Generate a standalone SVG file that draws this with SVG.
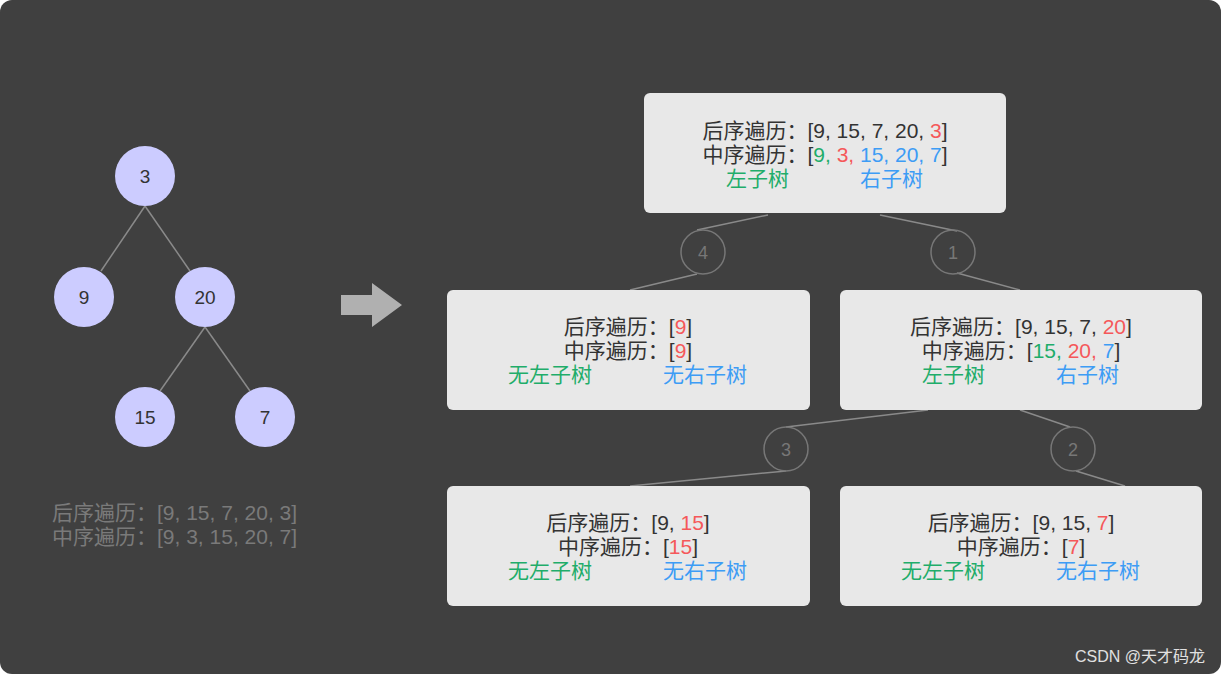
<svg xmlns="http://www.w3.org/2000/svg" width="1221" height="674" viewBox="0 0 1221 674">
<style>
text{font-family:"Liberation Sans","Noto Sans CJK SC",sans-serif;font-size:21px}
.box{fill:#e8e8e8}
.c{text-anchor:middle;fill:#333}
.r{fill:#f5585a}.g{fill:#1fad6a}.b{fill:#3d9cf5}
.ln{stroke:#8a8a8a;stroke-width:1.5;fill:none}
.lc{fill:none;stroke:#777;stroke-width:1.5}
.lt{fill:#777;text-anchor:middle;font-size:18px}
.tn{fill:#ccccff}
.tt{text-anchor:middle;fill:#333;font-size:19px}
</style>
<rect width="1221" height="674" rx="12" fill="#404040"/>
<g id="connectors">
<line class="ln" x1="145" y1="206" x2="101" y2="271"/>
<line class="ln" x1="145" y1="206" x2="190" y2="271"/>
<line class="ln" x1="205" y1="327" x2="160" y2="391"/>
<line class="ln" x1="205" y1="327" x2="250" y2="391"/>
<polyline class="ln" points="768,215 697,230"/><polyline class="ln" points="697,274 630,290"/>
<polyline class="ln" points="880,215 957,231"/><polyline class="ln" points="957,273 1020,290"/>
<polyline class="ln" points="928,410 786,427"/><polyline class="ln" points="786,471 630,486"/>
<polyline class="ln" points="1020,410 1070,427"/><polyline class="ln" points="1076,471 1125,486"/>
</g>
<g id="tree">
<circle class="tn" cx="145" cy="176" r="30"/><text class="tt" x="145" y="183">3</text>
<circle class="tn" cx="84" cy="297" r="30"/><text class="tt" x="84" y="304">9</text>
<circle class="tn" cx="205" cy="297" r="30"/><text class="tt" x="205" y="304">20</text>
<circle class="tn" cx="145" cy="417" r="30"/><text class="tt" x="145" y="424">15</text>
<circle class="tn" cx="265" cy="417" r="30"/><text class="tt" x="265" y="424">7</text>
</g>
<g id="arrow"><polygon points="341,295 372,295 372,283 402,305 372,327 372,315 341,315" fill="#b0b0b0"/></g>
<g id="legend">
<text x="52" y="520" fill="#7a7a7a">后序遍历：[9, 15, 7, 20, 3]</text>
<text x="52" y="544" fill="#7a7a7a">中序遍历：[9, 3, 15, 20, 7]</text>
</g>
<g id="labels">
<circle class="lc" cx="703" cy="252" r="22"/><text class="lt" x="703" y="259">4</text>
<circle class="lc" cx="953" cy="252" r="22"/><text class="lt" x="953" y="259">1</text>
<circle class="lc" cx="786" cy="449" r="22"/><text class="lt" x="786" y="456">3</text>
<circle class="lc" cx="1073" cy="449" r="22"/><text class="lt" x="1073" y="456">2</text>
</g>
<g id="n-root">
<rect class="box" x="644" y="93" width="362" height="120" rx="6"/>
<text class="c" x="825" y="138">后序遍历：[9, 15, 7, 20, <tspan class="r">3</tspan>]</text>
<text class="c" x="825" y="162">中序遍历：[<tspan class="g">9, </tspan><tspan class="r">3, </tspan><tspan class="b">15, 20, 7</tspan>]</text>
<text class="g" x="726" y="186">左子树</text><text class="b" x="860" y="186">右子树</text>
</g>
<g id="n-9">
<rect class="box" x="447" y="290" width="363" height="120" rx="6"/>
<text class="c" x="628" y="334">后序遍历：[<tspan class="r">9</tspan>]</text>
<text class="c" x="628" y="358">中序遍历：[<tspan class="r">9</tspan>]</text>
<text class="g" x="508" y="382">无左子树</text><text class="b" x="663" y="382">无右子树</text>
</g>
<g id="n-20">
<rect class="box" x="840" y="290" width="362" height="120" rx="6"/>
<text class="c" x="1021" y="334">后序遍历：[9, 15, 7, <tspan class="r">20</tspan>]</text>
<text class="c" x="1021" y="358">中序遍历：[<tspan class="g">15, </tspan><tspan class="r">20, </tspan><tspan class="b">7</tspan>]</text>
<text class="g" x="922" y="382">左子树</text><text class="b" x="1056" y="382">右子树</text>
</g>
<g id="n-15">
<rect class="box" x="447" y="486" width="363" height="120" rx="6"/>
<text class="c" x="628" y="530">后序遍历：[9, <tspan class="r">15</tspan>]</text>
<text class="c" x="628" y="554">中序遍历：[<tspan class="r">15</tspan>]</text>
<text class="g" x="508" y="578">无左子树</text><text class="b" x="663" y="578">无右子树</text>
</g>
<g id="n-7">
<rect class="box" x="840" y="486" width="362" height="120" rx="6"/>
<text class="c" x="1021" y="530">后序遍历：[9, 15, <tspan class="r">7</tspan>]</text>
<text class="c" x="1021" y="554">中序遍历：[<tspan class="r">7</tspan>]</text>
<text class="g" x="901" y="578">无左子树</text><text class="b" x="1056" y="578">无右子树</text>
</g>
<text x="1205" y="662" text-anchor="end" fill="#e0e0e0" style="font-size:16px">CSDN @天才码龙</text>
</svg>
